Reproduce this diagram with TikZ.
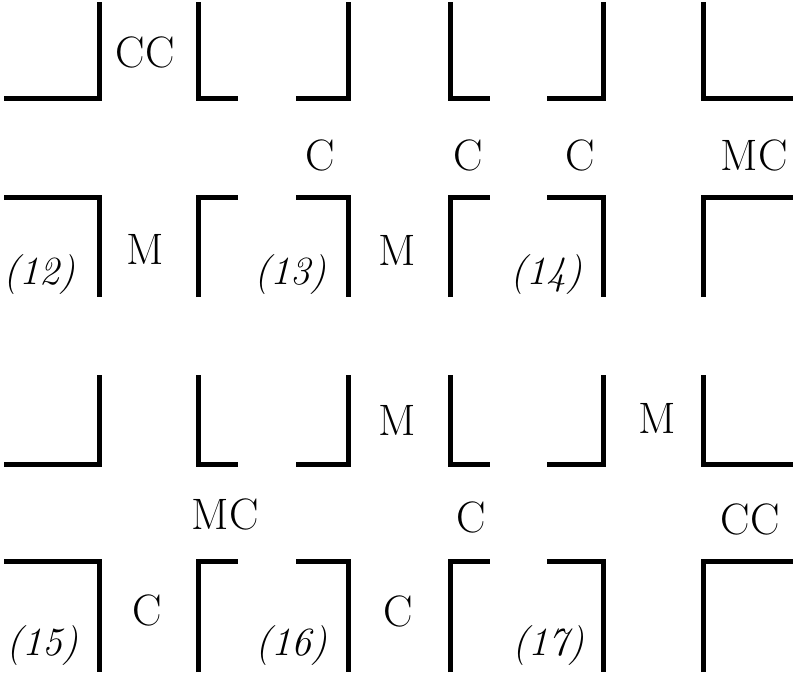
\documentclass[tikz,border=0pt]{standalone}
\usepackage{tikz}
\usetikzlibrary{positioning}

\tikzset{
    kerb/.style={line width=5pt, line cap=butt, line join=miter},
    lane/.style={font=\fontsize{44}{50}\selectfont, inner sep=0pt},
    casenum/.style={font=\fontsize{40}{46}\selectfont\itshape, inner sep=0pt}
}

\begin{document}
\begin{tikzpicture}[x=1pt, y=-1pt]
    \useasboundingbox (0,0) rectangle (795,675);

    % Street corners of each crossing
    % {left kerb / right kerb / left end / right end / top / upper kerb / lower kerb / bottom}
    \foreach \xl/\xr/\el/\er/\yt/\ya/\yb/\ybot in {
        99/198/4/238/2/98/197/297,
        348/450/296/490/2/98/197/297,
        603/703/547/793/2/98/197/297,
        99/198/4/238/375/464/561/672,
        348/450/296/490/375/464/561/672,
        603/703/547/793/375/464/561/672}
    {
        \draw[kerb] (\el,\ya) -- (\xl,\ya) -- (\xl,\yt);
        \draw[kerb] (\xr,\yt) -- (\xr,\ya) -- (\er,\ya);
        \draw[kerb] (\el,\yb) -- (\xl,\yb) -- (\xl,\ybot);
        \draw[kerb] (\xr,\ybot) -- (\xr,\yb) -- (\er,\yb);
    }

    % Upper row
    \node[lane] (cc12) at (145,52) {CC};
    \node[lane] (m12) at (145,249) {M};
    \node[casenum] (n12) at (40,275) {(12)};

    \node[lane] (c13w) at (320,155) {C};
    \node[lane] (m13) at (397,250) {M};
    \node[lane] (c13e) at (468,155) {C};
    \node[casenum] (n13) at (290,275) {(13)};

    \node[lane] (c14) at (580,155) {C};
    \node[lane] (mc14) at (754,155) {MC};
    \node[casenum] (n14) at (546,275) {(14)};

    % Lower row
    \node[lane] (mc15) at (225,514) {MC};
    \node[lane] (c15) at (147,610) {C};
    \node[casenum] (n15) at (42,646) {(15)};

    \node[lane] (m16) at (397,420) {M};
    \node[lane] (c16e) at (471,517) {C};
    \node[lane] (c16s) at (398,611) {C};
    \node[casenum] (n16) at (291,646) {(16)};

    \node[lane] (m17) at (657,418) {M};
    \node[lane] (cc17) at (750,519) {CC};
    \node[casenum] (n17) at (548,646) {(17)};

\end{tikzpicture}
\end{document}
